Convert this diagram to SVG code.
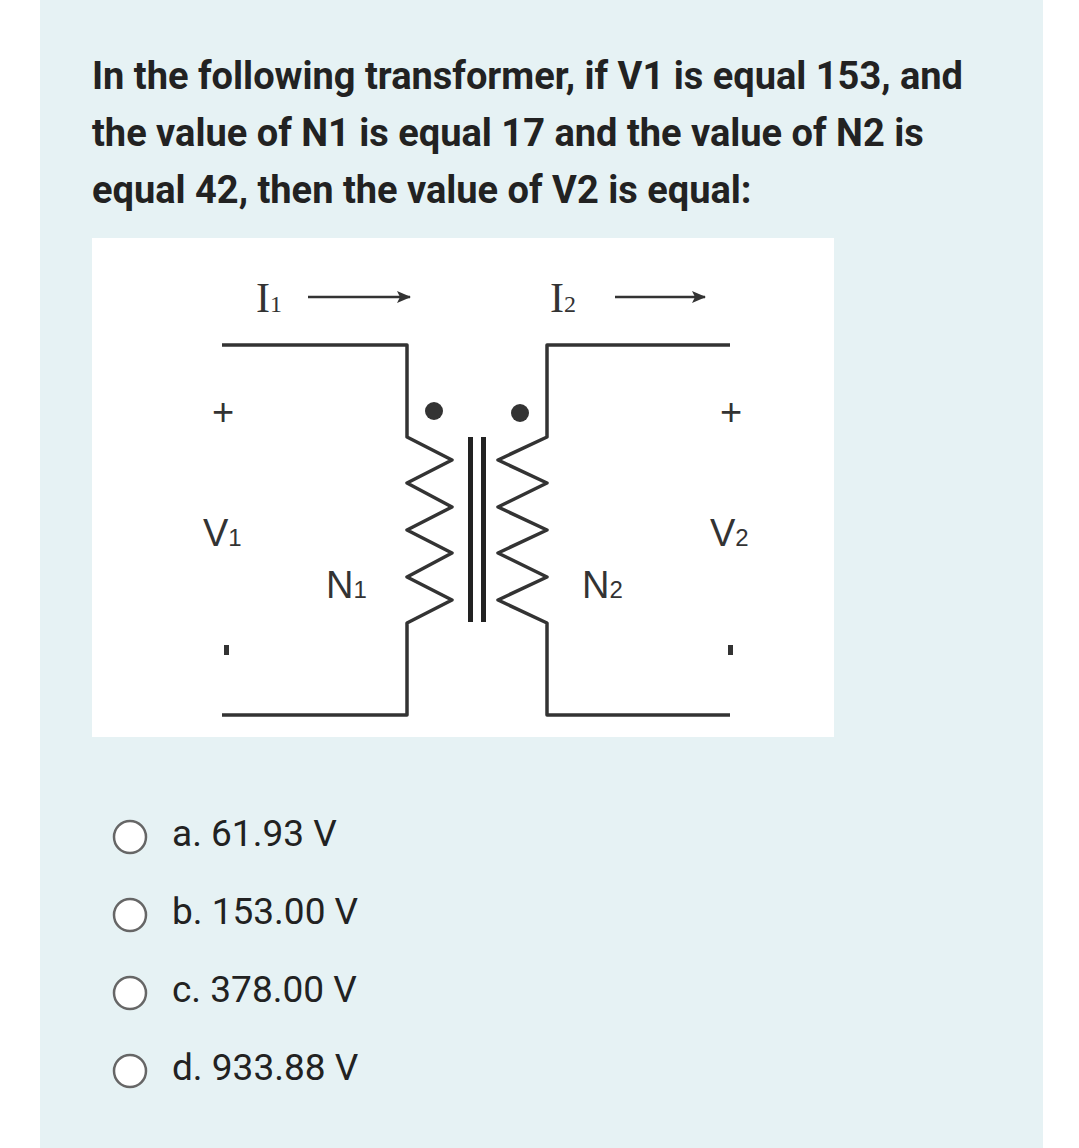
<svg xmlns="http://www.w3.org/2000/svg" width="1079" height="1148" viewBox="0 0 1079 1148">
<style>
.q{font-family:Roboto,"Liberation Sans",sans-serif;font-weight:bold;font-size:38px;fill:#222}
.o{font-family:Roboto,"Liberation Sans",sans-serif;font-size:37px;fill:#222}
.w{fill:none;stroke:#333;stroke-width:3.5;stroke-linejoin:round}
.s{font-family:"Liberation Serif",serif;font-size:42px;fill:#333}
.l{font-family:"Liberation Sans",sans-serif;font-size:38px;fill:#333}
.sub{font-size:24px}
.r{fill:#fff;stroke:#666;stroke-width:2.5}
</style>
<defs><marker id="ah" markerWidth="14" markerHeight="12" refX="13" refY="6" orient="auto" markerUnits="userSpaceOnUse"><path d="M0,0 L14,6 L0,12 L3,6 Z" fill="#333"/></marker></defs>
<rect width="1079" height="1148" fill="#fff"/>
<rect x="40" y="0" width="1003" height="1148" fill="#e6f2f4"/>
<text class="q" x="92" y="89">In the following transformer, if V1 is equal 153, and</text>
<text class="q" x="92" y="146">the value of N1 is equal 17 and the value of N2 is</text>
<text class="q" x="92" y="203">equal 42, then the value of V2 is equal:</text>
<rect x="92" y="238" width="742" height="499" fill="#fff"/>
<g id="connectors">
<path class="w" d="M222,345 H407 V437 L452,460 L407,483 L452,507 L407,530 L452,553 L407,577 L452,600 L407,623 V715 H222"/>
<path class="w" d="M730,345 H547 V437 L498,460 L547,483 L498,507 L547,530 L498,553 L547,577 L498,600 L547,623 V715 H730"/>
<line x1="308" y1="297" x2="410" y2="297" stroke="#333" stroke-width="2.5" marker-end="url(#ah)"/>
<line x1="615" y1="297" x2="705" y2="297" stroke="#333" stroke-width="2.5" marker-end="url(#ah)"/>
</g>
<g id="core"><rect x="468" y="437" width="5" height="185" fill="#222"/><rect x="481" y="437" width="5" height="185" fill="#222"/></g>
<g id="dots"><circle cx="434" cy="411" r="9" fill="#333"/><circle cx="520" cy="413" r="9" fill="#333"/></g>
<g id="labels">
<text class="s" x="256" y="312">I<tspan class="sub" dy="0">1</tspan></text>
<text class="s" x="550" y="312">I<tspan class="sub" dy="0">2</tspan></text>
<text class="l" x="223" y="425" text-anchor="middle">+</text>
<text class="l" x="731" y="425" text-anchor="middle">+</text>
<rect x="224" y="645" width="5" height="10" fill="#333"/>
<rect x="728" y="645" width="5" height="10" fill="#333"/>
<text class="l" x="203" y="546">V<tspan class="sub">1</tspan></text>
<text class="l" x="710" y="546">V<tspan class="sub">2</tspan></text>
<text class="l" x="326" y="598">N<tspan class="sub">1</tspan></text>
<text class="l" x="582" y="598">N<tspan class="sub">2</tspan></text>
</g>
<g id="options">
<circle class="r" cx="130" cy="837" r="16"/><text class="o" x="172" y="846">a. 61.93 V</text>
<circle class="r" cx="130" cy="915" r="16"/><text class="o" x="172" y="924">b. 153.00 V</text>
<circle class="r" cx="130" cy="993" r="16"/><text class="o" x="172" y="1002">c. 378.00 V</text>
<circle class="r" cx="130" cy="1071" r="16"/><text class="o" x="172" y="1080">d. 933.88 V</text>
</g>
</svg>
